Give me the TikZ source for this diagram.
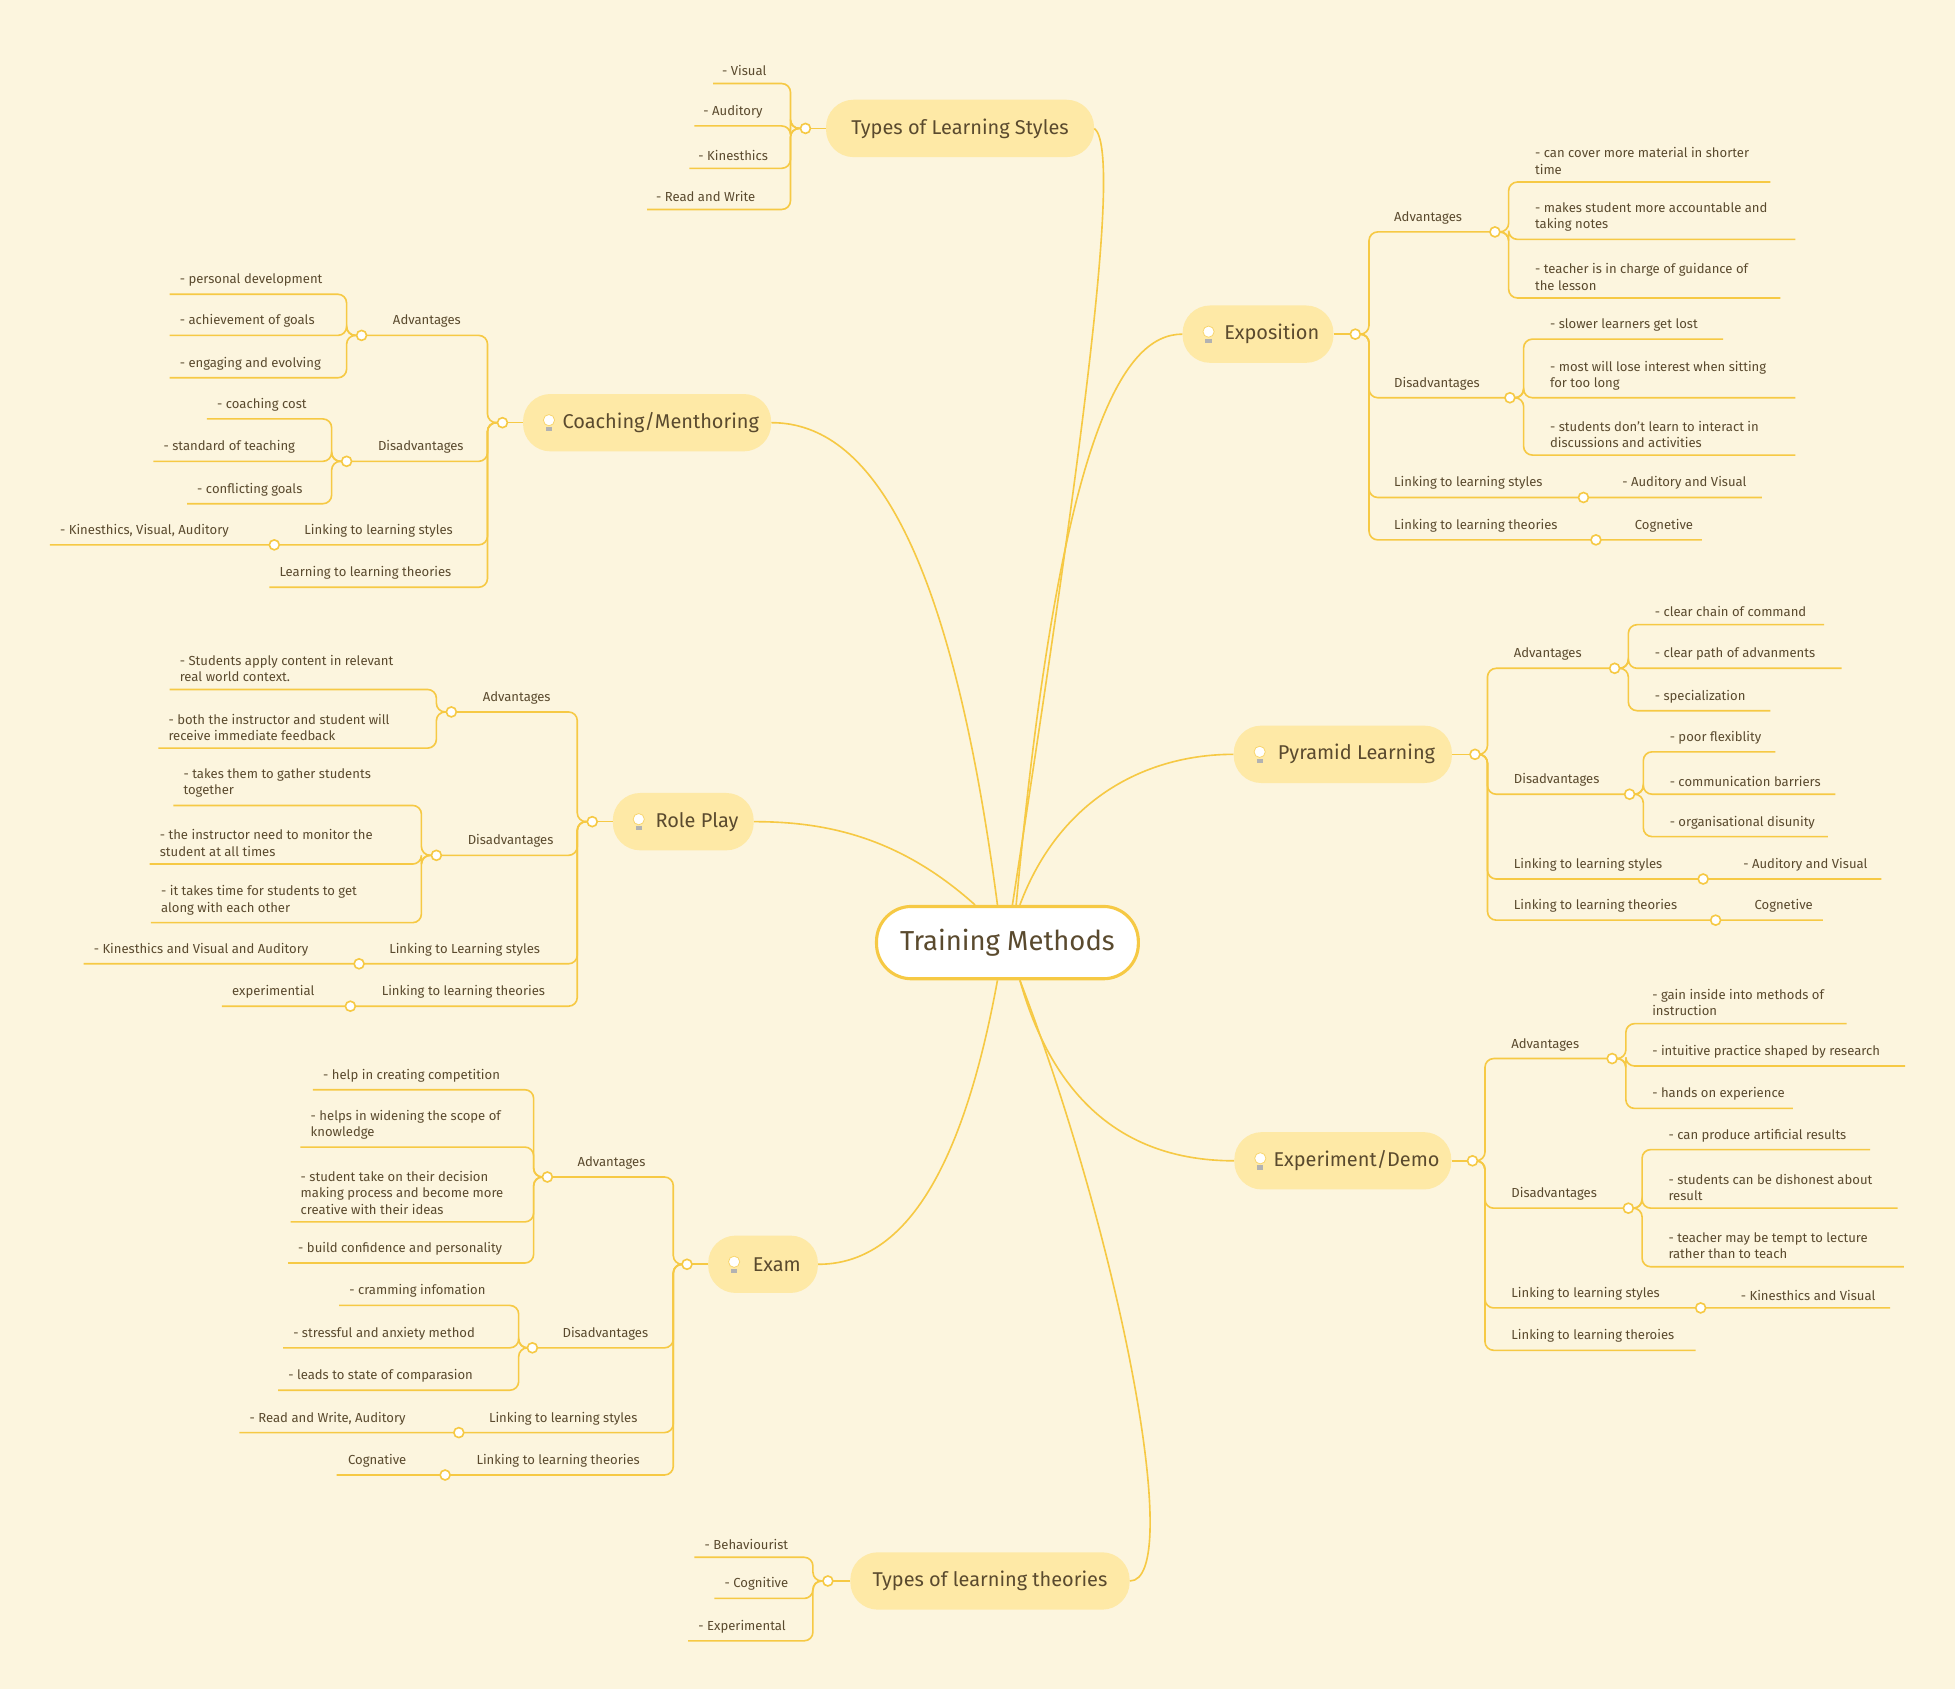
\documentclass[tikz,border=0pt]{standalone}
\usepackage{fontspec}
\setmainfont{Fira Sans}
\definecolor{bg}{HTML}{FCF5DE}
\definecolor{ln}{HTML}{F6C944}
\definecolor{pl}{HTML}{FEE9A6}
\definecolor{tx}{HTML}{5A4A2E}
\tikzset{
 lnk/.style={draw=ln,line width=1.3pt},
 lt/.style={anchor=south west,inner sep=2pt,yshift=4pt,text=tx,align=left,font=\fontsize{10.5}{13}\selectfont},
 pill/.style={fill=pl,rounded corners=22pt,minimum height=46pt,text=tx,font=\fontsize{16}{18}\selectfont,inner sep=0pt},
}
\newcommand\lf[7]{\draw[lnk,rounded corners=7pt] (#1,#2) -- (#3,#2) |- (#5,#4); \node[lt] at (#6,#4) {#7};}
\newcommand\jc[2]{\draw[lnk,fill=white] (#1,#2) circle[radius=4pt];}
\newcommand\lt[3]{\node[lt] at (#1,#2) {#3};}
\newcommand\bulb[1]{\fill[white,draw=ln!80!white,line width=0.6pt] ($(#1.west)+(21,-2)$) circle[radius=4.5pt]; \fill[gray!60] ($(#1.west)+(18.5,3.5)$) rectangle ($(#1.west)+(23.5,7)$);}
\usetikzlibrary{calc}
\begin{document}
\begin{tikzpicture}[x=1pt,y=-1pt]
\fill[bg] (0,0) rectangle (1568,1355);
\useasboundingbox (0,0) rectangle (1568,1355);
% center
\node[draw=ln,line width=2.5pt,fill=white,rounded corners=28pt,minimum width=210pt,minimum height=58pt,text=tx,font=\fontsize{22}{24}\selectfont] (c) at (808,756) {Training Methods};
% branches
\node[pill,minimum width=215pt] (tls) at (770,103) {Types of Learning Styles};
\node[pill,minimum width=121pt] (exp) at (1009,268) {\hspace{22pt}Exposition};
\node[pill,minimum width=199pt] (coa) at (519,339) {\hspace{22pt}Coaching/Menthoring};
\node[pill,minimum width=175pt] (pyr) at (1077,605) {\hspace{22pt}Pyramid Learning};
\node[pill,minimum width=113pt] (rol) at (548,659) {\hspace{22pt}Role Play};
\node[pill,minimum width=174pt] (exd) at (1077,931) {\hspace{22pt}Experiment/Demo};
\node[pill,minimum width=88pt] (exa) at (612,1014) {\hspace{22pt}Exam};
\node[pill,minimum width=224pt] (tlt) at (794,1268) {Types of learning theories};
\bulb{exp}\bulb{coa}\bulb{pyr}\bulb{rol}\bulb{exd}\bulb{exa}
% center connectors
\draw[lnk] ($(c.north)+(4,0)$) .. controls (870,350) and (900,120) .. (tls.east);
\draw[lnk] ($(c.north)+(7,0)$) .. controls (850,350) and (900,268) .. (exp.west);
\draw[lnk] ($(c.north)+(-8,0)$) .. controls (760,420) and (690,339) .. (coa.east);
\draw[lnk] ($(c.north)+(10,0)$) .. controls (850,640) and (920,605) .. (pyr.west);
\draw[lnk] ($(c.north)+(-26,0)$) .. controls (720,670) and (660,659) .. (rol.east);
\draw[lnk] ($(c.south)+(10,0)$) .. controls (850,900) and (920,931) .. (exd.west);
\draw[lnk] ($(c.south)+(-8,0)$) .. controls (770,950) and (720,1014) .. (exa.east);
\draw[lnk] ($(c.south)+(10,0)$) .. controls (900,1000) and (950,1268) .. (tlt.east);
\draw[lnk] (tls.west)--(646,103); \draw[lnk] (exp.east)--(1087,268);
\draw[lnk] (coa.west)--(403,339); \draw[lnk] (pyr.east)--(1183,605);
\draw[lnk] (rol.west)--(475,659); \draw[lnk] (exd.east)--(1181,931);
\draw[lnk] (exa.west)--(551,1014); \draw[lnk] (tlt.west)--(664,1268);
% Types of learning styles
\lf{646}{103}{634}{67}{572}{577}{- Visual}
\lf{646}{103}{634}{101}{557}{562}{- Auditory}
\lf{646}{103}{634}{135}{553}{558}{- Kinesthics}
\lf{646}{103}{634}{168}{519}{524}{- Read and Write}
% Coaching
\lf{403}{339}{391}{269}{290}{313}{Advantages}
\lf{290}{269}{278}{236}{136}{142}{- personal development}
\lf{290}{269}{278}{269}{136}{142}{- achievement of goals}
\lf{290}{269}{278}{303}{136}{142}{- engaging and evolving}
\lf{403}{339}{391}{370}{278}{301}{Disadvantages}
\lf{278}{370}{266}{336}{166}{172}{- coaching cost}
\lf{278}{370}{266}{370}{123}{129}{- standard of teaching}
\lf{278}{370}{266}{404}{150}{156}{- conflicting goals}
\lf{403}{339}{391}{437}{40}{242}{Linking to learning styles}
\lt{46}{437}{- Kinesthics, Visual, Auditory}
\lf{403}{339}{391}{471}{216}{222}{Learning to learning theories}
% Exposition
\lf{1087}{268}{1098}{186}{1199}{1116}{Advantages}
\lf{1199}{186}{1210}{146}{1420}{1229}{- can cover more material in shorter\\time}
\lf{1199}{186}{1210}{192}{1440}{1229}{- makes student more accountable and\\taking notes}
\lf{1199}{186}{1210}{239}{1428}{1229}{- teacher is in charge of guidance of\\the lesson}
\lf{1087}{268}{1098}{319}{1211}{1116}{Disadvantages}
\lf{1211}{319}{1222}{272}{1382}{1241}{- slower learners get lost}
\lf{1211}{319}{1222}{319}{1440}{1241}{- most will lose interest when sitting\\for too long}
\lf{1211}{319}{1222}{365}{1440}{1241}{- students don't learn to interact in\\discussions and activities}
\lf{1087}{268}{1098}{399}{1413}{1116}{Linking to learning styles}
\lt{1299}{399}{- Auditory and Visual}
\lf{1087}{268}{1098}{433}{1365}{1116}{Linking to learning theories}
\lt{1309}{433}{Cognetive}
% Pyramid
\lf{1183}{605}{1193}{536}{1295}{1212}{Advantages}
\lf{1295}{536}{1306}{501}{1463}{1325}{- clear chain of command}
\lf{1295}{536}{1306}{536}{1477}{1325}{- clear path of advanments}
\lf{1295}{536}{1306}{570}{1420}{1325}{- specialization}
\lf{1183}{605}{1193}{637}{1307}{1212}{Disadvantages}
\lf{1307}{637}{1318}{603}{1424}{1337}{- poor flexiblity}
\lf{1307}{637}{1318}{637}{1472}{1337}{- communication barriers}
\lf{1307}{637}{1318}{671}{1466}{1337}{- organisational disunity}
\lf{1183}{605}{1193}{705}{1509}{1212}{Linking to learning styles}
\lt{1396}{705}{- Auditory and Visual}
\lf{1183}{605}{1193}{738}{1462}{1212}{Linking to learning theories}
\lt{1405}{738}{Cognetive}
% Experiment
\lf{1181}{931}{1191}{849}{1293}{1210}{Advantages}
\lf{1293}{849}{1304}{821}{1481}{1323}{- gain inside into methods of\\instruction}
\lf{1293}{849}{1304}{855}{1528}{1323}{- intuitive practice shaped by research}
\lf{1293}{849}{1304}{889}{1438}{1323}{- hands on experience}
\lf{1181}{931}{1191}{969}{1306}{1210}{Disadvantages}
\lf{1306}{969}{1317}{922}{1500}{1336}{- can produce artificial results}
\lf{1306}{969}{1317}{969}{1522}{1336}{- students can be dishonest about\\result}
\lf{1306}{969}{1317}{1016}{1527}{1336}{- teacher may be tempt to lecture\\rather than to teach}
\lf{1181}{931}{1191}{1049}{1516}{1210}{Linking to learning styles}
\lt{1394}{1049}{- Kinesthics and Visual}
\lf{1181}{931}{1191}{1083}{1360}{1210}{Linking to learning theroies}
% Role play
\lf{475}{659}{463}{571}{362}{385}{Advantages}
\lf{362}{571}{350}{553}{136}{142}{- Students apply content in relevant\\real world context.}
\lf{362}{571}{350}{600}{127}{133}{- both the instructor and student will\\receive immediate feedback}
\lf{475}{659}{463}{686}{350}{373}{Disadvantages}
\lf{350}{686}{338}{646}{139}{145}{- takes them to gather students\\together}
\lf{350}{686}{338}{693}{120}{126}{- the instructor need to monitor the\\student at all times}
\lf{350}{686}{338}{740}{121}{127}{- it takes time for students to get\\along with each other}
\lf{475}{659}{463}{773}{67}{310}{Linking to Learning styles}
\lt{73}{773}{- Kinesthics and Visual and Auditory}
\lf{475}{659}{463}{807}{178}{304}{Linking to learning theories}
\lt{184}{807}{experimential}
% Exam
\lf{551}{1014}{540}{944}{439}{461}{Advantages}
\lf{439}{944}{428}{874}{251}{257}{- help in creating competition}
\lf{439}{944}{428}{920}{241}{247}{- helps in widening the scope of\\knowledge}
\lf{439}{944}{428}{980}{233}{239}{- student take on their decision\\making process and become more\\creative with their ideas}
\lf{439}{944}{428}{1013}{231}{237}{- build confidence and personality}
\lf{551}{1014}{540}{1081}{427}{449}{Disadvantages}
\lf{427}{1081}{416}{1047}{272}{278}{- cramming infomation}
\lf{427}{1081}{416}{1081}{227}{233}{- stressful and anxiety method}
\lf{427}{1081}{416}{1115}{223}{229}{- leads to state of comparasion}
\lf{551}{1014}{540}{1149}{192}{390}{Linking to learning styles}
\lt{198}{1149}{- Read and Write, Auditory}
\lf{551}{1014}{540}{1183}{270}{380}{Linking to learning theories}
\lt{277}{1183}{Cognative}
% Types of learning theories
\lf{664}{1268}{652}{1249}{557}{563}{- Behaviourist}
\lf{664}{1268}{652}{1282}{573}{579}{- Cognitive}
\lf{664}{1268}{652}{1316}{552}{558}{- Experimental}
% junction circles
\jc{646}{103}\jc{1087}{268}\jc{403}{339}\jc{1183}{605}\jc{475}{659}\jc{1181}{931}\jc{551}{1014}\jc{664}{1268}
\jc{290}{269}\jc{278}{370}\jc{220}{437}
\jc{1199}{186}\jc{1211}{319}\jc{1270}{399}\jc{1280}{433}
\jc{1295}{536}\jc{1307}{637}\jc{1366}{705}\jc{1376}{738}
\jc{1293}{849}\jc{1306}{969}\jc{1364}{1049}
\jc{362}{571}\jc{350}{686}\jc{288}{773}\jc{281}{807}
\jc{439}{944}\jc{427}{1081}\jc{368}{1149}\jc{357}{1183}
\end{tikzpicture}
\end{document}
